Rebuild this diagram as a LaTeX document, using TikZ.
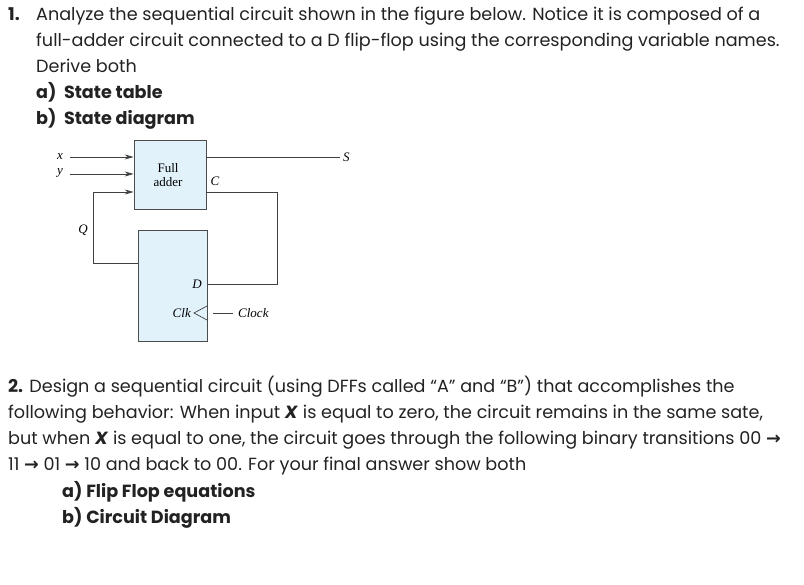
\documentclass[tikz,border=0pt]{standalone}
\usepackage{fontspec}
\setmainfont{Poppins}
\newfontfamily\ser{Liberation Serif}
\newfontfamily\dv{DejaVu Sans}
\usetikzlibrary{arrows.meta}
\definecolor{boxb}{HTML}{E1F2FB}
\definecolor{txt}{HTML}{222222}
\tikzset{
  ln/.style={anchor=base west,inner sep=0pt,font=\fontsize{17.6}{20}\selectfont,text=txt},
  bd/.style={ln,font=\fontsize{17.6}{20}\selectfont\bfseries},
  cl/.style={inner sep=0pt,font=\ser\fontsize{13}{14}\selectfont},
  ci/.style={inner sep=0pt,font=\ser\itshape\fontsize{13}{14}\selectfont},
  blk/.style={draw=black!70,fill=boxb,line width=0.7pt},
  wire/.style={draw=black!75,line width=0.7pt},
  arr/.style={wire,-{Stealth[length=9pt,width=5pt]}}
}
\begin{document}
\begin{tikzpicture}[x=1pt,y=-1pt]
\useasboundingbox (0,0) rectangle (804,585);
\node[bd] (n1) at (8,21) {1.};
\node[ln] (l1) at (36,21) {Analyze the sequential circuit shown in the figure below. Notice it is composed of a};
\node[ln] (l2) at (36,47) {full-adder circuit connected to a D flip-flop using the corresponding variable names.};
\node[ln] (l3) at (36,73) {Derive both};
\node[bd] (l4) at (36,99) {a)\ \ State table};
\node[bd] (l5) at (36,125) {b)\ \ State diagram};
% circuit
\node[blk,minimum width=72,minimum height=69,inner sep=0pt] (fa) at (170,174.5) {};
\node[cl,align=center] (fat) at (168,175) {Full\\adder};
\node[blk,minimum width=69,minimum height=111,inner sep=0pt] (ff) at (172.5,285.5) {};
\node[ci] (xl) at (60,157) {x};
\node[ci] (yl) at (60,173) {y};
\coordinate (xs) at (70,157);
\coordinate (ys) at (70,174);
\draw[arr] (xs) -- (fa.west |- xs);
\draw[arr] (ys) -- (fa.west |- ys);
\coordinate (q1) at (93,192);
\coordinate (q2) at (93,263);
\draw[arr] (ff.west |- q2) -- (q2) -- (q1) -- (fa.west |- q1);
\node[ci] (ql) at (83,230) {Q};
\coordinate (se) at (340,157);
\draw[wire] (fa.east |- se) -- (se);
\node[ci,anchor=west] (sl) at (343,157) {S};
\node[ci] (cll) at (215,181) {C};
\coordinate (c1) at (277,192);
\coordinate (c2) at (277,284);
\draw[wire] (fa.east |- c1) -- (c1) -- (c2) -- (ff.east |- c2);
\node[ci] (dl) at (197,284) {D};
\node[ci,anchor=east] (ck) at (191,313) {Clk};
\coordinate (t1) at (207,306);
\coordinate (t2) at (194,313);
\coordinate (t3) at (207,320);
\draw[wire] (t1) -- (t2) -- (t3);
\coordinate (k1) at (213,313);
\coordinate (k2) at (233,313);
\draw[wire] (k1) -- (k2);
\node[ci,anchor=west] (ckl) at (238,313) {Clock};
% part 2
\node[ln] (m1) at (8,393) {\textbf{2.} Design a sequential circuit (using DFFs called “A” and “B”) that accomplishes the};
\node[ln] (m2) at (8,419) {following behavior: When input \textbf{\textit{X}} is equal to zero, the circuit remains in the same sate,};
\node[ln] (m3) at (8,445) {but when \textbf{\textit{X}} is equal to one, the circuit goes through the following binary transitions 00 {\dv\bfseries →}};
\node[ln] (m4) at (8,471) {11 {\dv\bfseries →} 01 {\dv\bfseries →} 10 and back to 00. For your final answer show both};
\node[bd] (m5) at (62,497) {a) Flip Flop equations};
\node[bd] (m6) at (62,523) {b) Circuit Diagram};
\end{tikzpicture}
\end{document}
